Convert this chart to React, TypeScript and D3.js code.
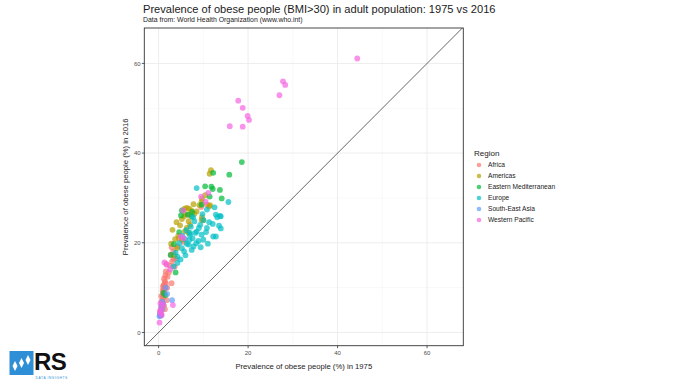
import React from "react";
import * as d3 from "d3";

const regions = ["Africa", "Americas", "Eastern Mediterranean", "Europe", "South-East Asia", "Western Pacific"];
const colors = ["#F8766D", "#B79F00", "#00BA38", "#00BFC4", "#619CFF", "#F564E3"];

const xTicks = [0, 20, 40, 60];
const yTicks = [0, 20, 40, 60];
const minorTicks = [10, 30, 50];

// [obesity 1975, obesity 2016]
const africa: [number, number][] = [
  [0.5, 4.5], [0.6, 5.5], [0.8, 6.3], [0.7, 7.0], [1.0, 7.8], [0.9, 8.4], [1.1, 9.0], [1.2, 9.6],
  [1.0, 10.2], [1.3, 10.8], [1.4, 11.4], [1.2, 12.0], [1.5, 12.7], [0.6, 8.1], [0.8, 6.8], [1.1, 10.5],
  [0.9, 9.3], [1.6, 11.0], [0.7, 5.9], [0.4, 4.9], [1.3, 8.7], [1.5, 9.9], [2.0, 12.4], [2.9, 11.0],
  [3.6, 14.7], [3.3, 16.4], [2.7, 17.3], [1.7, 15.3], [2.9, 19.0], [3.3, 18.0], [3.8, 16.5], [4.2, 19.2],
  [4.5, 21.0], [5.6, 20.2], [9.5, 28.0], [10.8, 28.5], [6.8, 26.2], [1.8, 7.2], [0.5, 3.8], [1.2, 6.0],
  [2.3, 13.4], [1.9, 10.0], [1.4, 5.2], [2.5, 14.9], [3.0, 15.8], [0.3, 4.2], [1.6, 13.6],
];
const americas: [number, number][] = [
  [11.7, 36.2], [11.4, 35.4], [11.3, 28.1], [11.5, 28.4], [9.6, 29.1], [9.7, 29.8], [6.3, 27.8], [5.8, 27.6],
  [6.8, 27.6], [7.3, 27.2], [5.7, 25.9], [5.2, 25.3], [9.7, 25.7], [10.0, 25.0], [6.7, 24.8], [7.0, 24.0],
  [6.3, 23.3], [3.1, 22.9], [4.4, 21.6], [3.7, 20.8], [5.2, 20.7], [6.7, 22.2], [4.1, 18.8], [9.1, 28.4],
  [9.6, 25.1], [8.0, 26.5], [4.8, 23.9], [5.9, 22.6], [7.8, 28.6], [8.5, 27.0], [4.0, 24.6], [2.8, 19.8],
  [6.0, 26.4], [10.4, 30.6], [3.5, 17.2],
];
const easternMed: [number, number][] = [
  [18.6, 38.0], [15.8, 35.2], [12.2, 35.6], [10.4, 32.6], [11.8, 32.5], [12.1, 32.0], [13.7, 31.8], [14.1, 29.9],
  [11.4, 30.3], [5.2, 27.2], [7.5, 26.9], [6.5, 26.3], [9.6, 28.5], [2.7, 17.3], [1.1, 8.8], [3.8, 13.4],
  [7.4, 25.9], [4.6, 22.4], [3.4, 19.7], [1.5, 8.3], [5.0, 26.1],
];
const europe: [number, number][] = [
  [8.5, 32.2], [15.6, 29.1], [12.8, 26.3], [13.7, 26.0], [13.1, 25.7], [13.9, 25.9], [10.8, 23.3], [12.1, 24.2],
  [13.5, 23.8], [13.9, 23.2], [12.8, 21.4], [10.0, 25.1], [9.3, 24.0], [9.0, 23.3], [8.2, 22.2], [7.0, 21.8],
  [7.6, 21.0], [6.7, 19.6], [7.8, 19.2], [4.6, 19.9], [5.7, 18.1], [4.2, 15.5], [3.3, 14.7], [10.6, 22.4],
  [9.6, 21.8], [10.8, 27.4], [8.5, 22.5], [7.0, 22.2], [5.9, 20.8], [6.3, 19.8], [8.4, 19.9], [10.0, 20.7],
  [12.2, 21.4], [7.4, 18.4], [5.2, 18.8], [9.8, 26.4], [11.3, 24.6], [6.2, 22.8], [8.9, 20.4], [7.2, 23.6],
  [11.0, 19.8], [9.4, 19.0], [6.0, 17.2], [4.9, 16.3], [8.0, 24.8], [12.5, 27.9], [3.8, 17.8], [7.7, 25.7],
  [5.3, 21.6], [4.2, 16.9], [6.9, 20.7],
];
const seAsia: [number, number][] = [
  [0.4, 3.9], [0.2, 3.6], [0.3, 4.1], [1.0, 6.4], [0.6, 5.8], [0.8, 5.2], [1.6, 10.0], [0.8, 6.9],
  [1.9, 8.6], [0.5, 3.8], [3.0, 7.2],
];
const westernPac: [number, number][] = [
  [44.4, 61.1], [27.8, 56.0], [28.3, 55.2], [27.0, 52.9], [17.8, 51.7], [18.8, 50.1], [19.9, 48.3], [20.2, 47.4],
  [15.9, 46.0], [18.8, 45.9], [9.5, 30.3], [10.5, 29.2], [11.1, 31.1], [5.5, 27.2], [5.0, 21.4], [5.6, 21.0],
  [1.3, 15.6], [1.8, 15.1], [2.6, 14.1], [0.2, 2.2], [0.5, 4.3], [0.3, 4.7], [0.6, 5.3], [1.0, 6.2],
  [0.4, 6.5], [3.2, 6.1], [0.7, 3.9],
];

const series = [africa, americas, easternMed, europe, seAsia, westernPac];

const W = 680;
const H = 383;
const P = { left: 144.3, right: 463.3, top: 28, bottom: 345.7 };
const FONT = "'Liberation Sans', Arial, sans-serif";

export default function App() {
  const x = d3.scaleLinear().domain([-3.2, 68.1]).range([P.left, P.right]);
  const y = d3.scaleLinear().domain([-2.95, 67.9]).range([P.bottom, P.top]);
  const lo = Math.max(x.domain()[0], y.domain()[0]);
  const hi = Math.min(x.domain()[1], y.domain()[1]);
  const diag = d3.line<number>().x((v) => x(v)).y((v) => y(v))([lo, hi]);

  return (
    <svg width={W} height={H} style={{ position: "absolute", left: 0, top: 0, background: "#fff" }} fontFamily={FONT}>
      <defs>
        <clipPath id="panel">
          <rect x={P.left} y={P.top} width={P.right - P.left} height={P.bottom - P.top} />
        </clipPath>
      </defs>
      <rect x={0} y={0} width={W} height={H} fill="#fff" />
      {/* title */}
      <text x={143} y={12.5} fontSize={11.1} fill="#1a1a1a">Prevalence of obese people (BMI&gt;30) in adult population: 1975 vs 2016</text>
      <text x={143} y={22.3} fontSize={6.9} fill="#1a1a1a">Data from: World Health Organization (www.who.int)</text>

      {/* grid */}
      <g>
        {minorTicks.map((t) => (
          <g key={"m" + t}>
            <line x1={x(t)} x2={x(t)} y1={P.top} y2={P.bottom} stroke="#f2f2f2" strokeWidth={0.5} />
            <line x1={P.left} x2={P.right} y1={y(t)} y2={y(t)} stroke="#f2f2f2" strokeWidth={0.5} />
          </g>
        ))}
        {xTicks.map((t) => (
          <line key={"gx" + t} x1={x(t)} x2={x(t)} y1={P.top} y2={P.bottom} stroke="#ebebeb" strokeWidth={0.9} />
        ))}
        {yTicks.map((t) => (
          <line key={"gy" + t} x1={P.left} x2={P.right} y1={y(t)} y2={y(t)} stroke="#ebebeb" strokeWidth={0.9} />
        ))}
      </g>

      {/* points */}
      <g clipPath="url(#panel)">
        {series.map((s, i) =>
          s.map((d, j) => (
            <circle key={i + "-" + j} cx={x(d[0])} cy={y(d[1])} r={2.9} fill={colors[i]} fillOpacity={0.7} />
          ))
        )}
        <path d={diag ?? ""} stroke="#555" strokeWidth={0.9} fill="none" />
      </g>

      {/* border */}
      <rect x={P.left} y={P.top} width={P.right - P.left} height={P.bottom - P.top} fill="none" stroke="#333" strokeWidth={0.9} />

      {/* axes ticks */}
      {xTicks.map((t) => (
        <g key={"tx" + t}>
          <line x1={x(t)} x2={x(t)} y1={P.bottom} y2={P.bottom + 2.5} stroke="#333" strokeWidth={0.8} />
          <text x={x(t)} y={P.bottom + 9.2} fontSize={6} fill="#4d4d4d" textAnchor="middle">{t}</text>
        </g>
      ))}
      {yTicks.map((t) => (
        <g key={"ty" + t}>
          <line x1={P.left - 2.5} x2={P.left} y1={y(t)} y2={y(t)} stroke="#333" strokeWidth={0.8} />
          <text x={P.left - 3.6} y={y(t) + 2.1} fontSize={6} fill="#4d4d4d" textAnchor="end">{t}</text>
        </g>
      ))}

      {/* axis titles */}
      <text x={(P.left + P.right) / 2} y={369.3} fontSize={7.7} fill="#1a1a1a" textAnchor="middle">Prevalence of obese people (%) in 1975</text>
      <text transform={`translate(128.3,${(P.top + P.bottom) / 2}) rotate(-90)`} fontSize={7.7} fill="#1a1a1a" textAnchor="middle">Prevalence of obese people (%) in 2016</text>

      {/* legend */}
      <text x={474} y={155.8} fontSize={8} fill="#1a1a1a">Region</text>
      {regions.map((r, i) => {
        const cy = 165 + i * 11;
        return (
          <g key={r}>
            <circle cx={479} cy={cy} r={2.3} fill={colors[i]} fillOpacity={0.7} />
            <text x={488} y={cy + 2.2} fontSize={6.6} fill="#1a1a1a">{r}</text>
          </g>
        );
      })}

      {/* logo */}
      <g>
        <rect x={9.5} y={351} width={24} height={24} fill="#2f8fd6" />
        {[0, 1, 2].map((k) => {
          const cx = 15 + k * 6.5;
          const cy = 366 - k * 3;
          return (
            <path key={k} d={`M${cx},${cy - 5} L${cx + 2.5},${cy} L${cx},${cy + 5} L${cx - 2.5},${cy} Z`} fill="#fff" />
          );
        })}
        <text x={34} y={370} fontSize={24} fontWeight="bold" fill="#111" letterSpacing={-0.5}>RS</text>
        <text x={35.5} y={379} fontSize={3.3} fill="#2f8fd6" letterSpacing={0.6}>DATA INSIGHTS</text>
      </g>
    </svg>
  );
}
